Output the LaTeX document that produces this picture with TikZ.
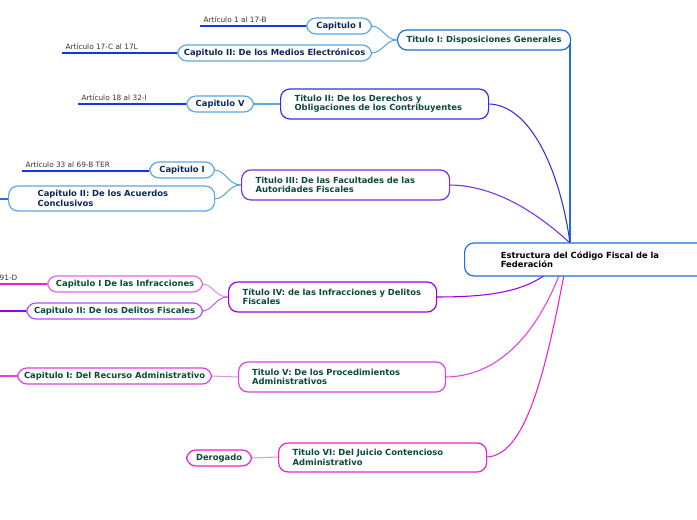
\documentclass[tikz,border=0pt]{standalone}
\usepackage{fontspec}
\setmainfont{DejaVu Sans}
\begin{document}
\begin{tikzpicture}[x=0.75pt,y=-0.75pt,
 box/.style={draw=#1,rounded corners=7pt,line width=0.9pt,fill=white,inner sep=0pt,font=\bfseries\fontsize{6.3}{7}\selectfont},
 lnk/.style={draw=#1,line width=0.8pt},
 art/.style={font=\fontsize{5.5}{6}\selectfont,anchor=south west,inner sep=1pt,text=black!80}]
\useasboundingbox (0,0) rectangle (697,520);
\definecolor{cT1}{HTML}{1E6FD9}\definecolor{cT2}{HTML}{3030E8}\definecolor{cT3}{HTML}{7A2EE6}
\definecolor{cT4}{HTML}{9A00E6}\definecolor{cT5}{HTML}{E040E0}\definecolor{cT6}{HTML}{F020C8}
\definecolor{cC}{HTML}{5AA8E0}\definecolor{tg}{HTML}{0B4A3A}\definecolor{tn}{HTML}{0A2A55}
% connectors
\coordinate (rt) at (570,243);
\draw[lnk=cT1] (rt) -- (570,40) -- (570,40);
\draw[lnk=cT2] (rt) .. controls (560,170) and (530,104) .. (488,104);
\draw[lnk=cT3] (rt) .. controls (545,220) and (500,185) .. (449,185);
\draw[lnk=cT4] (rt) .. controls (550,290) and (500,297) .. (436,297);
\draw[lnk=cT5] (rt) .. controls (545,330) and (500,377) .. (445,377);
\draw[lnk=cT6] (rt) .. controls (550,350) and (530,457) .. (486,457);
% chapter links
\draw[lnk=cC] (397,40) .. controls (385,40) and (383,26) .. (371,26);
\draw[lnk=cC] (397,40) .. controls (385,40) and (383,53) .. (371,53);
\draw[lnk=cC] (280,104) -- (253,104);
\draw[lnk=cC] (241,185) .. controls (228,185) and (226,170) .. (214,170);
\draw[lnk=cC] (241,185) .. controls (228,185) and (226,199) .. (214,199);
\draw[lnk=cT5!60] (228,297) .. controls (215,297) and (213,284) .. (202,284);
\draw[lnk=cT4!60] (228,297) .. controls (215,297) and (213,311) .. (202,311);
\draw[lnk=cT5!60] (238,377) -- (211,376);
\draw[lnk=cT6!50] (278,457) -- (251,458);
% article lines
\draw[lnk=cT1!50!blue,line width=1pt] (200,26) -- (306,26);
\draw[lnk=cT1!50!blue,line width=1pt] (62,53) -- (177,53);
\draw[lnk=cT1!50!blue,line width=1pt] (78,104) -- (186,104);
\draw[lnk=cT1!50!blue,line width=1pt] (22,171) -- (149,171);
\draw[lnk=cT1,line width=1pt] (0,199) -- (8,199);
\draw[lnk=cT6,line width=1pt] (0,284) -- (47,284);
\draw[lnk=cT4,line width=1pt] (0,311) -- (26,311);
\draw[lnk=cT5,line width=1pt] (0,376) -- (17,376);
\node[art] (a1) at (202,24) {Artículo 1 al 17-B};
\node[art] (a2) at (64,51) {Artículo 17-C al 17L};
\node[art] (a3) at (80,102) {Artículo 18 al 32-I};
\node[art] (a4) at (24,169) {Artículo 33 al 69-B TER};
\node[art] (a5) at (-2,282) {91-D};
% root & titles
\node[box=cT1,minimum width=212\pgflinewidth,text width=182*0.75pt,minimum height=33*0.75pt,align=left,text=black,anchor=west,inner xsep=14pt*0.75] (root) at (464,259.5) {Estructura del Código Fiscal de la\\Federación};
\node[box=cT1,text=tg,minimum width=173*0.75pt,minimum height=20*0.75pt,anchor=west] (t1) at (397,40) {Titulo I: Disposiciones Generales};
\node[box=cT2,text=tg,minimum width=208*0.75pt,minimum height=30*0.75pt,text width=180*0.75pt,align=left,anchor=west] (t2) at (280,104) {Titulo II: De los Derechos y\\Obligaciones de los Contribuyentes};
\node[box=cT3,text=tg,minimum width=208*0.75pt,minimum height=30*0.75pt,text width=180*0.75pt,align=left,anchor=west] (t3) at (241,185) {Titulo III: De las Facultades de las\\Autoridades Fiscales};
\node[box=cT4,text=tg,minimum width=208*0.75pt,minimum height=30*0.75pt,text width=180*0.75pt,align=left,anchor=west] (t4) at (228,297) {Título IV: de las Infracciones y Delitos\\Fiscales};
\node[box=cT5,text=tg,minimum width=207*0.75pt,minimum height=30*0.75pt,text width=180*0.75pt,align=left,anchor=west] (t5) at (238,377) {Titulo V: De los Procedimientos\\Administrativos};
\node[box=cT6,text=tg,minimum width=208*0.75pt,minimum height=29*0.75pt,text width=180*0.75pt,align=left,anchor=west] (t6) at (278,457.5) {Titulo VI: Del Juicio Contencioso\\Administrativo};
% chapters
\node[box=cC,text=tn,minimum width=65*0.75pt,minimum height=16*0.75pt,anchor=west] (c1) at (306,26) {Capitulo I};
\node[box=cC,text=tn,minimum width=194*0.75pt,minimum height=16*0.75pt,anchor=west] (c2) at (177,53) {Capitulo II: De los Medios Electrónicos};
\node[box=cC,text=tn,minimum width=67*0.75pt,minimum height=16*0.75pt,anchor=west] (c5) at (186,104) {Capitulo V};
\node[box=cC,text=tn,minimum width=65*0.75pt,minimum height=16*0.75pt,anchor=west] (c31) at (149,170) {Capitulo I};
\node[box=cC,text=tn,minimum width=206*0.75pt,minimum height=25*0.75pt,text width=180*0.75pt,align=left,anchor=west,inner xsep=0pt] (c32) at (8,198.5) {\hspace*{12pt}Capitulo II: De los Acuerdos\\\hspace*{12pt}Conclusivos};
\node[box=cT5!80,text=tg,minimum width=155*0.75pt,minimum height=16*0.75pt,anchor=west] (c41) at (47,284) {Capitulo I De las Infracciones};
\node[box=cT4!70,text=tg,minimum width=176*0.75pt,minimum height=16*0.75pt,anchor=west] (c42) at (26,311) {Capitulo II: De los Delitos Fiscales};
\node[box=cT5,text=tg,minimum width=194*0.75pt,minimum height=16*0.75pt,anchor=west] (c51) at (17,376) {Capitulo I: Del Recurso Administrativo};
\node[box=cT6,text=tg,minimum width=65*0.75pt,minimum height=16*0.75pt,anchor=west] (c61) at (186,458) {Derogado};
\end{tikzpicture}
\end{document}
